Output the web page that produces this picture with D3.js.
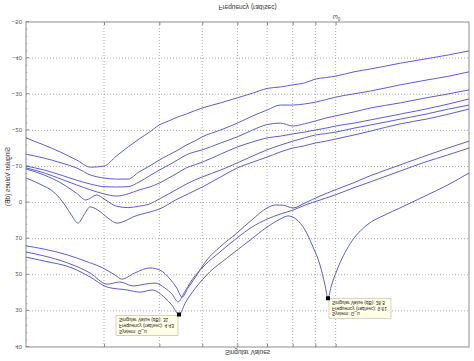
<!DOCTYPE html>
<html><head><meta charset="utf-8">
<script src="https://cdn.jsdelivr.net/npm/d3@7"></script>
<style>
body{margin:0;background:#fff;}
svg{display:block;font-family:"Liberation Sans",Arial,sans-serif;}
</style>
</head><body>
<svg id="c" width="474" height="361"></svg>
<script>
// ---- data (frequency in rad/sec, singular values in dB) ----
const freqGrid = [2,2.2,2.4,2.6,2.8,3,3.2,3.4,3.6,3.8,4,4.2,4.4,4.6,4.8,5,5.5,6,6.5,7,7.5,8,8.5,9,9.5,10,11,12,14,16,18,20];
const sv1 = [-17.9,-15.9,-13.9,-11.8,-9.8,-10.1,-12.9,-15.4,-17.6,-19.5,-21.5,-22.6,-23.7,-24.5,-25.4,-26.2,-27.6,-29.0,-30.3,-31.6,-32.0,-32.6,-33.1,-34.2,-34.6,-35.0,-36.2,-37.0,-38.6,-39.8,-40.9,-42.0];
const sv2 = [-13.4,-12.3,-11.0,-9.6,-7.6,-6.8,-6.5,-6.5,-8.5,-10.1,-11.8,-13.2,-14.5,-15.9,-17.0,-18.2,-20.1,-22.0,-24.0,-25.6,-27.0,-27.0,-27.3,-27.8,-28.5,-29.2,-30.1,-30.9,-32.6,-33.9,-35.0,-36.2];
const sv3 = [-10.1,-9.0,-7.6,-6.2,-5.1,-4.4,-4.3,-4.4,-5.7,-7.4,-9.0,-10.4,-11.8,-13.2,-14.0,-14.6,-16.5,-18.2,-20.1,-21.6,-22.0,-21.2,-21.8,-22.6,-23.4,-24.0,-25.1,-26.2,-27.6,-29.0,-30.1,-31.2];
const sv4 = [-9.6,-8.2,-6.5,-4.9,-3.5,-2.4,-1.8,-2.4,-3.5,-4.3,-5.4,-6.8,-8.2,-9.6,-10.4,-11.2,-13.4,-15.4,-16.8,-17.9,-18.4,-19.0,-19.5,-20.1,-20.6,-21.2,-22.0,-22.9,-24.5,-25.9,-27.3,-28.7];
const sv5 = [[2,-9.3],[2.2,-7.6],[2.4,-5.4],[2.6,-2.6],[2.73,-0.7],[2.89,-2.1],[3,-1.0],[3.2,1.0],[3.4,1.4],[3.6,1.0],[3.8,0.4],[4,-1.0],[4.2,-2.4],[4.4,-3.8],[4.6,-5.1],[4.8,-6.2],[5,-7.1],[5.5,-9.0],[6,-11.0],[6.5,-12.9],[7,-14.6],[7.5,-15.9],[8,-17.0],[8.5,-17.9],[9,-18.7],[9.5,-19.1],[10,-19.5],[11,-20.6],[12,-21.5],[14,-23.1],[16,-24.5],[18,-25.9],[20,-27.0]];
const sv6 = [[2,-6.8],[2.151,-5.1],[2.325,-2.6],[2.449,0.7],[2.54,3.7],[2.621,5.7],[2.704,3.4],[2.79,1.2],[2.907,2.1],[3.063,4.3],[3.209,5.7],[3.345,5.1],[3.487,4.0],[3.81,2.6],[4.0,1.8],[4.35,-0.7],[5,-4.3],[5.5,-7.1],[6,-9.6],[6.5,-11.2],[7,-12.6],[7.5,-14.0],[8,-15.1],[8.5,-15.7],[9,-16.5],[9.5,-17.0],[10,-17.6],[11,-18.7],[12,-19.8],[14,-21.8],[16,-23.1],[18,-24.5],[20,-25.9]];
const sv7 = [[2,12.0],[2.2,12.9],[2.48,14.5],[2.72,16.2],[2.98,18.1],[3.18,20.1],[3.29,21.2],[3.52,19.5],[3.81,18.1],[4.01,18.7],[4.23,21.2],[4.38,23.7],[4.5,26.2],[4.64,23.7],[4.81,20.9],[5.12,15.9],[5.48,12.3],[5.99,8.4],[6.47,4.8],[7.0,1.5],[7.3,0.7],[7.57,0.7],[8.01,1.5],[8.53,0.1],[9.22,-1.8],[9.97,-3.5],[10.94,-5.4],[11.96,-7.4],[13.97,-10.4],[15.91,-12.9],[17.93,-15.1],[20,-17.0]];
const sv8 = [[2,13.7],[2.2,14.8],[2.48,16.7],[2.79,19.5],[3.05,22.6],[3.26,22.0],[3.49,23.1],[3.71,22.6],[3.91,22.3],[4.12,23.7],[4.27,25.3],[4.41,27.5],[4.55,25.0],[4.74,21.4],[5.07,17.3],[5.48,13.7],[5.99,9.8],[6.47,6.8],[7.0,4.6],[7.49,3.2],[8.01,2.1],[8.53,0.7],[9.22,-0.7],[9.97,-2.1],[10.94,-4.0],[11.96,-5.7],[13.97,-8.7],[15.91,-11.2],[17.93,-13.2],[20,-15.1]];
const sv9 = [[2,15.1],[2.2,16.2],[2.54,18.1],[2.79,20.6],[3.05,23.4],[3.38,24.2],[3.62,24.8],[3.85,24.2],[4.12,26.4],[4.27,28.4],[4.43,31.0],[4.59,27.5],[4.81,23.9],[5.2,19.2],[5.68,15.4],[6.41,10.4],[7.0,6.8],[7.49,4.6],[7.81,3.7],[8.14,4.6],[8.53,7.6],[8.89,12.3],[9.22,17.3],[9.46,22.8],[9.61,26.5],[9.76,23.4],[10.07,18.7],[10.77,11.5],[11.77,6.2],[12.93,3.4],[13.97,1.5],[15.91,-1.8],[17.93,-4.9],[20,-8.2]];

const yTicks = [-50,-40,-30,-20,-10,0,10,20,30,40];
const xGridFreqs = [3,4,5,6,7,8,9,10];
const tipData = [
  {f:4.43, db:31.0, side:"left", lines:["System: G_u","Frequency (rad/sec): 4.43","Singular Value (dB): 31"]},
  {f:9.61, db:26.5, side:"right", lines:["System: G_u","Frequency (rad/sec): 9.61","Singular Value (dB): 26.5"]}
];
const titleText = "Singular Values";
const xLabelText = "Frequency (rad/sec)";
const yLabelText = "Singular Values (dB)";

// ---- build ----
const W = 474, H = 361;
const L = 26, R = 469, T = 14, B = 339;
const x = d3.scaleLog().domain([2,20]).range([L,R]);
const y = d3.scaleLinear().domain([-50,40]).range([B,T]);

const series = [
  freqGrid.map((f,i)=>[f,sv1[i]]),
  freqGrid.map((f,i)=>[f,sv2[i]]),
  freqGrid.map((f,i)=>[f,sv3[i]]),
  freqGrid.map((f,i)=>[f,sv4[i]]),
  sv5, sv6, sv7, sv8, sv9
];

const svg = d3.select("#c");
svg.append("rect").attr("width",W).attr("height",H).attr("fill","#fff");
// the reference picture is mirrored top-to-bottom
const g = svg.append("g").attr("transform",`translate(0,${H}) scale(1,-1)`);

g.append("rect").attr("x",L).attr("y",T).attr("width",R-L).attr("height",B-T).attr("fill","#fff");

// grid
g.append("g").selectAll("line").data(yTicks.filter(v=>v>-50&&v<40)).join("line")
  .attr("x1",L).attr("x2",R).attr("y1",d=>y(d)).attr("y2",d=>y(d))
  .attr("stroke","#9a9a9a").attr("stroke-width",0.8).attr("stroke-dasharray","1,2");
g.append("g").selectAll("line").data(xGridFreqs).join("line")
  .attr("x1",d=>x(d)).attr("x2",d=>x(d)).attr("y1",T).attr("y2",B)
  .attr("stroke","#9a9a9a").attr("stroke-width",0.8).attr("stroke-dasharray","1,2");

// y axis (left) with minor ticks
const yAxis = d3.axisLeft(y).tickValues(yTicks).tickSize(-3).tickPadding(4).tickFormat(d3.format("d"));
const ya = g.append("g").attr("transform",`translate(${L},0)`).call(yAxis);
ya.select(".domain").remove();
ya.selectAll(".tick line").attr("stroke","#888");
ya.selectAll("text").attr("font-size",6).attr("fill","#555");
const minor = d3.range(-50,41,2).filter(v=>v%10!==0);
g.append("g").selectAll("line").data(minor).join("line")
  .attr("x1",L).attr("x2",L+1.5).attr("y1",d=>y(d)).attr("y2",d=>y(d)).attr("stroke","#999").attr("stroke-width",0.6);
// x ticks
const xa = g.append("g").attr("transform",`translate(0,${B})`)
  .call(d3.axisBottom(x).tickValues(xGridFreqs).tickSize(-3).tickFormat(""));
xa.select(".domain").remove();
xa.selectAll(".tick line").attr("stroke","#888");
const xt = g.append("g").attr("transform",`translate(0,${T})`)
  .call(d3.axisTop(x).tickValues(xGridFreqs).tickSize(-3).tickFormat(""));
xt.select(".domain").remove();
xt.selectAll(".tick line").attr("stroke","#888");

// box
g.append("rect").attr("x",L).attr("y",T).attr("width",R-L).attr("height",B-T)
  .attr("fill","none").attr("stroke","#8c8c8c").attr("stroke-width",1);

// curves
const line = d3.line().x(d=>x(d[0])).y(d=>y(d[1])).curve(d3.curveMonotoneX);
g.append("g").selectAll("path").data(series).join("path")
  .attr("d",line).attr("fill","none").attr("stroke","#5c5cd8").attr("stroke-width",1);

// data tips
tipData.forEach(t=>{
  const mx = x(t.f), my = y(t.db);
  const bw = 62, bh = 20;
  const bx = t.side==="left" ? mx-bw-1 : mx+1;
  const by = t.side==="left" ? my-bh-1 : my-bh;
  g.append("rect").attr("x",bx).attr("y",by).attr("width",bw).attr("height",bh)
    .attr("fill","#ffffe6").attr("stroke","#b5b5a0").attr("stroke-width",0.6);
  t.lines.forEach((s,i)=>{
    g.append("text").attr("x",bx+3).attr("y",by+6+i*5.6).attr("font-size",4.8).attr("fill","#222").text(s);
  });
  g.append("rect").attr("x",mx-2).attr("y",my-2).attr("width",4).attr("height",4).attr("fill","#000");
});

// labels
g.append("text").attr("x",(L+R)/2).attr("y",T-3).attr("text-anchor","middle")
  .attr("font-size",6.5).attr("fill","#333").text(titleText);
g.append("text").attr("x",(L+R)/2).attr("y",B+17).attr("text-anchor","middle")
  .attr("font-size",6.5).attr("fill","#333").text(xLabelText);
g.append("text").attr("transform",`translate(10,${(T+B)/2+8}) rotate(-90)`).attr("text-anchor","middle")
  .attr("font-size",6.5).attr("fill","#333").text(yLabelText);
const om = g.append("text").attr("x",x(10)-3).attr("y",B+7).attr("font-size",6.5).attr("fill","#444").text("ω");
om.append("tspan").attr("font-size",4.5).attr("dy",-2).text("0");
</script>
</body></html>
